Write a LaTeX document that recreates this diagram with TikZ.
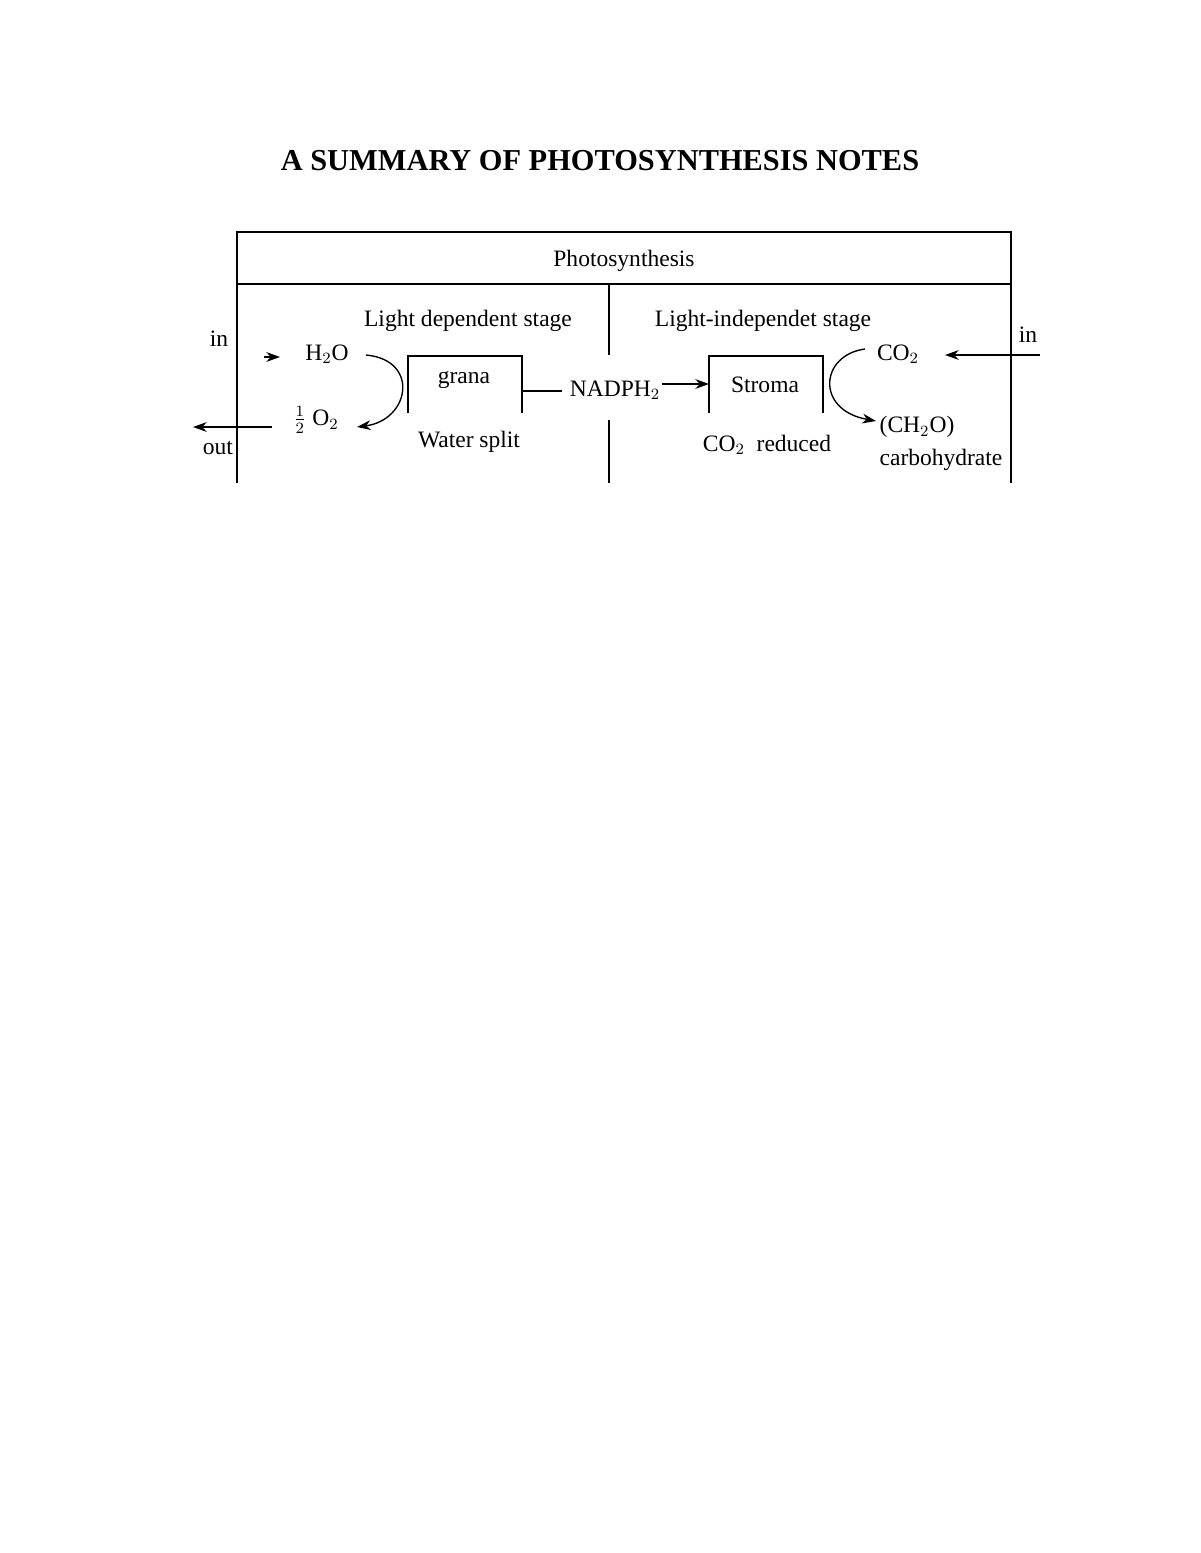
\documentclass[tikz,border=0pt]{standalone}
\usepackage{fontspec}
\setmainfont{Liberation Serif}
\usetikzlibrary{arrows.meta}
\begin{document}
\begin{tikzpicture}[x=0.51pt,y=-0.51pt,line width=0.7pt,
  lbl/.style={inner sep=0pt,font=\fontsize{12}{14}\selectfont},
  arr/.style={-{Stealth[length=7pt,width=5pt]}}]
\useasboundingbox (0,0) rectangle (1200,1553);
\node[inner sep=0pt,font=\fontsize{15.5}{18}\selectfont\bfseries] (title) at (600,161) {A SUMMARY OF PHOTOSYNTHESIS NOTES};
% frame
\draw (237,483) -- (237,232) -- (1011,232) -- (1011,483);
\draw (237,284) -- (1011,284);
\draw (609,284) -- (609,355);
\draw (609,420) -- (609,483);
\node[lbl] (ph) at (624,261) {Photosynthesis};
% boxes
\draw (408,413) -- (408,356) -- (522,356) -- (522,413);
\draw (709,413) -- (709,356) -- (823,356) -- (823,413);
\coordinate (gr) at (522,391);
\coordinate (st) at (709,384);
\node[lbl] (grana) at (464,380) {grana};
\node[lbl] (stroma) at (765,385) {Stroma};
\node[lbl] (nadph) at (615,390) {NADPH$_2$};
\draw (gr) -- (562,391);
\draw[arr] (662,384) -- (st);
% texts
\node[lbl] (ld) at (468,321) {Light dependent stage};
\node[lbl] (li) at (763,321) {Light-independet stage};
\node[lbl] (ws) at (469,442) {Water split};
\node[lbl] (cr) at (767,445) {CO$_2$\ \ reduced};
\node[lbl] (in1) at (219,339) {in};
\node[lbl] (out) at (218,448) {out};
\node[lbl] (in2) at (1028,335) {in};
\node[lbl] (h2o) at (327,354) {H$_2$O};
\node[lbl] (o2) at (316,420) {$\frac{1}{2}$ O$_2$};
\node[lbl] (co2) at (898,354) {CO$_2$};
\node[lbl] (ch2o) at (917,427) {(CH$_2$O)};
\node[lbl] (carb) at (941,460) {carbohydrate};
% arrows
\coordinate (a1) at (366,355);
\coordinate (a2) at (357,427);
\draw[arr] (a1) .. controls (420,360) and (410,420) .. (a2);
\coordinate (b1) at (865,349);
\coordinate (b2) at (876,421);
\draw[arr] (b1) .. controls (820,355) and (815,410) .. (b2);
\coordinate (inA) at (264,357);
\draw[arr] (inA) -- (280,357);
\coordinate (oA) at (272,427);
\coordinate (oB) at (193,427);
\draw[arr] (oA) -- (oB);
\coordinate (iA) at (1040,355);
\coordinate (iB) at (945,355);
\draw[arr] (iA) -- (iB);
\end{tikzpicture}
\end{document}
